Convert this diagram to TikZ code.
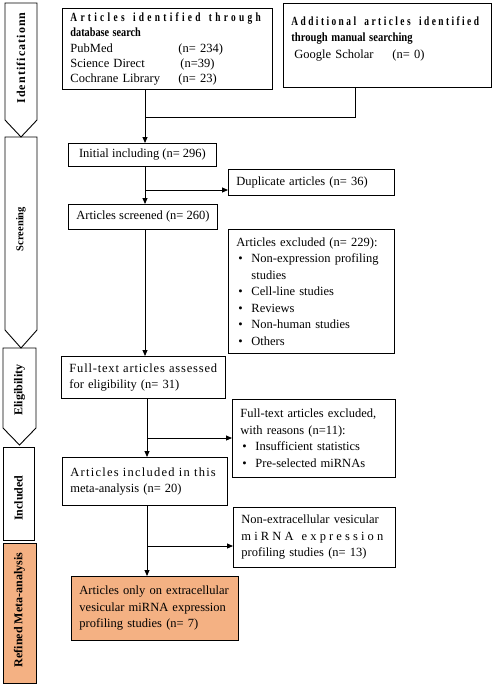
\documentclass[tikz,border=0pt]{standalone}
\usepackage{fontspec}
\usepackage{graphicx}
\setmainfont{Liberation Serif}
\usetikzlibrary{arrows.meta,positioning,calc}
\definecolor{pforange}{RGB}{244,177,131}
\newcommand{\pftext}{\fontsize{12.5}{16.5}\selectfont}
\newcommand{\pfitem}[1]{\makebox[15pt][l]{\hspace{2pt}\textbullet}#1}
\newcommand{\pfcont}[1]{\hspace*{15pt}#1}
\newcommand{\spaced}[2]{{\addfontfeature{LetterSpace=#1}#2}}
\newcommand{\pfhead}[2][0.82]{\scalebox{#1}[1]{\bfseries #2}}
\tikzset{
  pf/box/.style={draw, line width=0.9pt, anchor=north west, align=left, inner xsep=8pt, inner ysep=2pt, font=\pftext},
  pf/final/.style={pf/box, fill=pforange},
  pf/stage/.style={draw, line width=0.9pt},
  pf/stagelabel/.style={rotate=90, inner sep=0pt, font=\bfseries\fontsize{12}{14}\selectfont},
  pf/line/.style={line width=0.9pt},
  pf/arrow/.style={pf/line, -{Triangle[length=6pt,width=5pt]}}
}

\begin{document}
\begin{tikzpicture}[x=1pt, y=-1pt]
  \useasboundingbox (0,0) rectangle (493,685);

  % stages on the left
  \draw[pf/stage] (5,3) -- (37,3) -- (37,120) -- (21,137) -- (5,120) -- cycle;
  \node[pf/stagelabel] (sIdent) at (21,58) {\spaced{9}{Identificationn}};
  \draw[pf/stage] (5,137) -- (37,137) -- (37,330) -- (21,348) -- (5,330) -- cycle;
  \node[pf/stagelabel, font=\bfseries\fontsize{10.5}{12}\selectfont] (sScreen) at (21,229) {Screening};
  \draw[pf/stage] (3,348) -- (36,348) -- (36,428) -- (19.5,445) -- (3,428) -- cycle;
  \node[pf/stagelabel] (sElig) at (19.5,390) {Eligibility};
  \draw[pf/stage] (3,447) rectangle (34,540);
  \node[pf/stagelabel] (sIncl) at (18.5,498) {Included};
  \draw[pf/stage, fill=pforange] (3,543) rectangle (36,683);
  \node[pf/stagelabel] (sRefined) at (19.5,610) {Refined Meta-analysis};

  % identification
  \node[pf/box, minimum width=210pt, minimum height=81pt, text width=194pt, font=\fontsize{12.5}{15.3}\selectfont] (db) at (62,8)
    {\pfhead[0.75]{\spaced{35}{Articles\hspace{7pt} identified\hspace{7pt} through}}\\\pfhead{database search}\\
     \makebox[108pt][l]{PubMed}(n= 234)\\
     \makebox[110pt][l]{Science Direct}(n=39)\\
     \makebox[108pt][l]{Cochrane Library}(n= 23)};
  \node[pf/box, minimum width=208pt, minimum height=84pt, text width=192pt, font=\fontsize{12.5}{16.5}\selectfont] (manual) at (283,3)
    {\pfhead[0.75]{\spaced{26}{Additional\hspace{7pt} articles\hspace{7pt} identified}}\\\pfhead[0.85]{through manual searching}\\
     \hspace*{3pt}\makebox[98pt][l]{Google Scholar}(n= 0)\\\mbox{}};

  % screening
  \node[pf/box, minimum width=148pt, minimum height=23pt] (init) at (68,143) {Initial including (n= 296)};
  \node[pf/box, minimum width=166pt, minimum height=26pt, text width=150pt] (dup) at (228,169) {Duplicate articles (n= 36)};
  \node[pf/box, minimum width=148pt, minimum height=25pt] (screened) at (68,204) {Articles screened (n= 260)};
  \node[pf/box, minimum width=166pt, minimum height=124pt, text width=150pt] (excl1) at (228,229)
    {Articles excluded (n= 229):\\
     \pfitem{Non-expression profiling}\\
     \pfcont{studies}\\
     \pfitem{Cell-line studies}\\
     \pfitem{Reviews}\\
     \pfitem{Non-human studies}\\
     \pfitem{Others}};

  % eligibility
  \node[pf/box, minimum width=164pt, minimum height=42pt, text width=148pt] (full) at (61,356)
    {\spaced{6.5}{Full-text articles assessed}\\for eligibility (n= 31)};
  \node[pf/box, minimum width=163pt, minimum height=78pt, text width=147pt] (excl2) at (232,399)
    {Full-text articles excluded,\\with reasons (n=11):\\
     \pfitem{Insufficient statistics}\\
     \pfitem{Pre-selected miRNAs}};

  % included
  \node[pf/box, minimum width=165pt, minimum height=48pt, text width=149pt] (incl) at (62,457)
    {\spaced{10}{Articles included in this}\\meta-analysis (n= 20)};
  \node[pf/box, minimum width=162pt, minimum height=60pt, text width=146pt] (nonev) at (233,507)
    {Non-extracellular vesicular\\\spaced{25}{miRNA\hspace{4pt} expression}\\profiling studies (n= 13)};
  \node[pf/final, minimum width=167pt, minimum height=64pt, text width=151pt] (final) at (71,576)
    {Articles only on extracellular\\vesicular miRNA expression\\profiling studies (n= 7)};

  % connectors
  \coordinate (merge) at (145,117);
  \coordinate (mtap) at (355,117);
  \draw[pf/line] (db.south -| merge) -- (merge) -- (mtap) -- (mtap |- manual.south);
  \draw[pf/arrow] (merge) -- (merge |- init.north);
  \coordinate (split1) at (145,190);
  \draw[pf/arrow] (init.south -| merge) -- (merge |- screened.north);
  \draw[pf/arrow] (split1) -- (split1 -| dup.west);
  \draw[pf/arrow] (screened.south -| merge) -- (merge |- full.north);
  \coordinate (split2) at (147,438);
  \draw[pf/arrow] (full.south -| split2) -- (split2 |- incl.north);
  \draw[pf/arrow] (split2) -- (split2 -| excl2.west);
  \coordinate (split3) at (147,546);
  \draw[pf/arrow] (incl.south -| split3) -- (split3 |- final.north);
  \draw[pf/arrow] (split3) -- (split3 -| nonev.west);
\end{tikzpicture}
\end{document}
